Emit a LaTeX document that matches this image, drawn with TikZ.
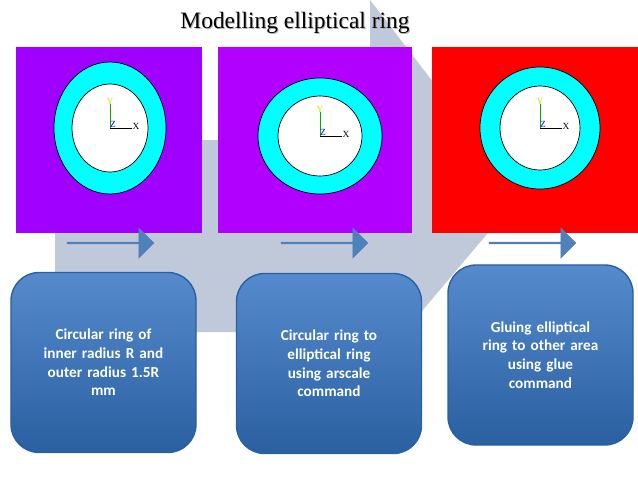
\documentclass[tikz,border=0pt]{standalone}
\usepackage{fontspec}
\setmainfont{Liberation Serif}
\newfontfamily\boxfont{Carlito}
\usetikzlibrary{shapes.arrows,positioning}
\definecolor{bgarrow}{RGB}{192,201,218}
\definecolor{panelA}{RGB}{160,0,255}
\definecolor{panelB}{RGB}{178,0,255}
\definecolor{ringcyan}{RGB}{0,255,255}
\definecolor{stepblue}{RGB}{66,125,200}
\definecolor{stepdark}{RGB}{42,95,160}
\definecolor{arrowblue}{RGB}{79,129,189}

\begin{document}
\begin{tikzpicture}[x=0.03cm,y=-0.03cm,
        panel/.style={rectangle, draw=none, anchor=north west, inner sep=0pt},
        stepbox/.style={rectangle, rounded corners=24pt, draw=stepdark, line width=1.2pt,
            top color=stepblue!90!white, bottom color=stepdark, text=white,
            font=\boxfont\bfseries\fontsize{13pt}{16pt}\selectfont, align=center,
            minimum width=5.55cm, minimum height=5.4cm, text width=4.9cm},
        flow/.style={single arrow, draw=stepdark!80, fill=arrowblue, minimum height=2.6cm,
            minimum width=0.9cm, single arrow head extend=0.12cm, inner sep=0pt},
        axis/.style={font=\fontsize{8pt}{8pt}\selectfont, inner sep=1pt}
    ]
        \useasboundingbox (0,0) rectangle (638,478);
        % Background arrow
        \fill[bgarrow] (55,140) -- (370,140) -- (370,0) -- (520,195) -- (330,420)
            -- (330,332) -- (55,332) -- cycle;

        % Title
        \node[text=gray!60] (titleshadow) at (296,24) {\fontsize{20pt}{24pt}\selectfont Modelling elliptical ring};
        \node (title) at (295,23) {\fontsize{20pt}{24pt}\selectfont Modelling elliptical ring};

        % Panels
        \node[panel, fill=panelA, minimum width=5.58cm, minimum height=5.58cm] (pa) at (16,47) {};
        \node[panel, fill=panelB, minimum width=5.82cm, minimum height=5.58cm] (pb) at (218,47) {};
        \node[panel, fill=red, minimum width=6.18cm, minimum height=5.58cm] (pc) at (432,47) {};

        % Rings
        \foreach \cx/\cy/\orx/\ory/\irx/\iry in {110/128/56/66/38/44, 320/136/62/58/42/40, 540/128/60/61/40/42}{
            \draw[fill=ringcyan, line width=0.6pt] (\cx,\cy) ellipse[x radius=\orx, y radius=\ory];
            \draw[fill=white, line width=0.6pt] (\cx,\cy) ellipse[x radius=\irx, y radius=\iry];
            \draw[green!70!black, line width=0.8pt] (\cx,\cy) -- ++(0,-24);
            \draw[line width=0.6pt] (\cx,\cy) -- ++(22,0);
            \node[axis, text=yellow!80!green] at (\cx,\cy-27) {Y};
            \node[axis] at (\cx+26,\cy-2) {X};
            \node[axis, text=blue] at (\cx+3,\cy-4) {Z};
        }

        % Flow arrows
        \node[flow] (fa) at (110,243) {};
        \node[flow] (fb) at (324,243) {};
        \node[flow] (fc) at (532,243) {};

        % Step boxes
        \node[stepbox] (sa) at (103.5,362.5) {Circular ring of\\inner radius R and\\outer radius 1.5R\\mm};
        \node[stepbox] (sb) at (329,363.5) {Circular ring to\\elliptical ring\\using arscale\\command};
        \node[stepbox] (sc) at (540.5,355) {Gluing elliptical\\ring to other area\\using glue\\command};
    \end{tikzpicture}
\end{document}
